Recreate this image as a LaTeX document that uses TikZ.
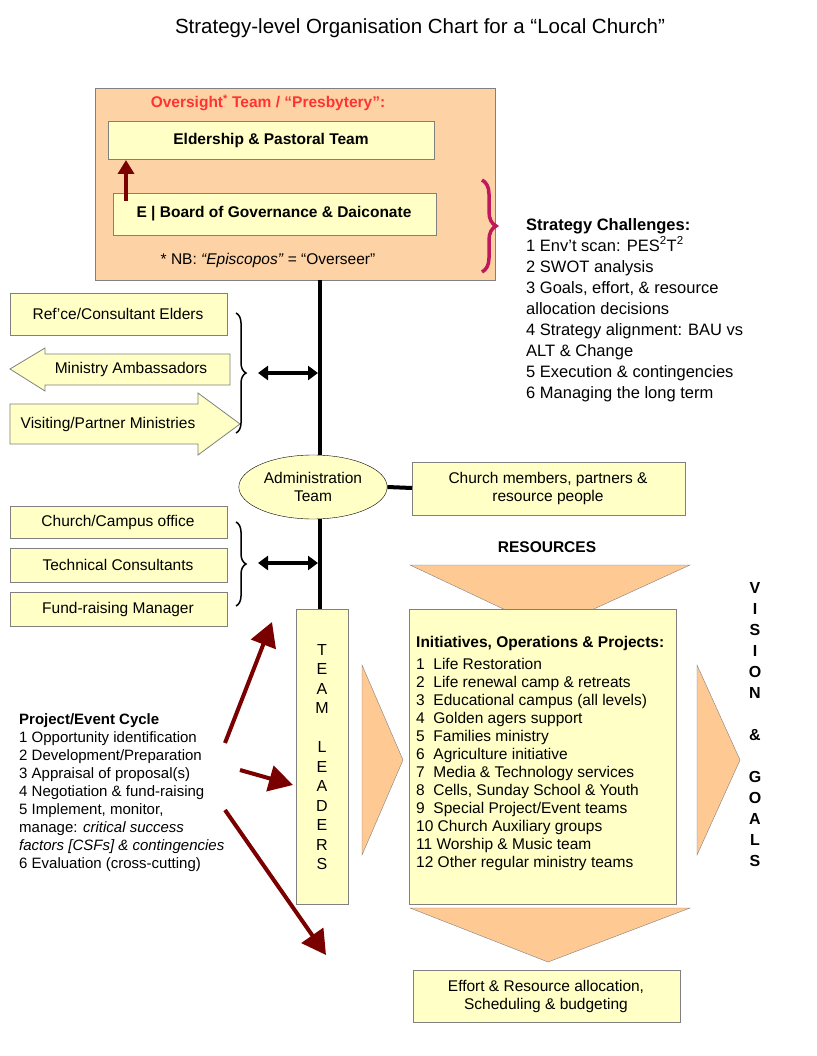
\documentclass[tikz,border=0pt]{standalone}
\usepackage{fontspec}
\setmainfont{Liberation Sans}
\usetikzlibrary{shapes.geometric,shapes.arrows,decorations.pathreplacing,arrows.meta}
\definecolor{peach}{HTML}{FDD3A5}
\definecolor{pale}{HTML}{FFFFC6}
\definecolor{tri}{HTML}{FFC994}
\definecolor{darkred}{HTML}{7A0000}
\definecolor{brace}{HTML}{C0185A}
\begin{document}
\begin{tikzpicture}[x=1pt,y=-1pt,
  box/.style={draw=gray,fill=pale,line width=0.8pt,inner sep=0pt},
  txt/.style={font=\fontsize{15.5}{18}\selectfont},
  btxt/.style={font=\bfseries\fontsize{15.5}{18}\selectfont},
  lst/.style={align=left,anchor=north west,inner sep=0pt},
  redarr/.style={draw=darkred,line width=4pt,-{Triangle[length=24pt,width=26pt]}},
  dbl/.style={line width=3.5pt,{Triangle[length=10pt,width=14pt]}-{Triangle[length=10pt,width=14pt]}}]
\useasboundingbox (0,0) rectangle (816,1056);

% title
\node[font=\fontsize{20.5}{24}\selectfont] (title) at (420,28) {Strategy-level Organisation Chart for a “Local Church”};

% oversight team
\draw[fill=peach,draw=gray] (95,88) rectangle (495,280);
\node[text=red!80,btxt] (over) at (268,103) {Oversight\textsuperscript{*} Team / “Presbytery”:};
\draw[box] (108,121) rectangle (434,159);
\node[btxt] (elder) at (271,140) {Eldership \& Pastoral Team};
\draw[box] (113,193) rectangle (436,235);
\node[btxt] (board) at (274,214) {E | Board of Governance \& Daiconate};
\coordinate (eup) at (126,160);
\coordinate (edn) at (126,201);
\draw[darkred,line width=3.5pt,-{Triangle[length=14pt,width=16pt]}] (edn) -- (eup);
\node[txt] (nb) at (268,260) {* NB: \textit{“Episcopos”} = “Overseer”};

% strategy challenges
\draw[brace,line width=3.5pt,decorate,decoration={brace,amplitude=14pt}] (482,180) -- (482,272);
\node[lst,font=\fontsize{16.5}{21}\selectfont] (chal) at (526,218) {\textbf{Strategy Challenges:}\\
1 Env't scan: PES\textsuperscript{2}T\textsuperscript{2}\\
2 SWOT analysis\\
3 Goals, effort, \& resource\\
allocation decisions\\
4 Strategy alignment: BAU vs\\
ALT \& Change\\
5 Execution \& contingencies\\
6 Managing the long term};

% spine
\node[draw=black,fill=pale,ellipse,minimum width=116pt,minimum height=64pt,align=center,txt] (admin) at (313,487) {Administration\\Team};
\coordinate (top) at (320,280);
\coordinate (bot) at (320,609);
\draw[line width=4pt] (top) -- (top |- admin.north);
\draw[line width=4pt] (bot |- admin.south) -- (bot);

% upper left group
\draw[box] (10,293) rectangle (227,335);
\node[txt] (ref) at (118,314) {Ref'ce/Consultant Elders};
\draw[draw=gray,fill=pale,line width=0.8pt] (10,369) -- (45,348) -- (45,354) -- (230,354) -- (230,385) -- (45,385) -- (45,391) -- cycle;
\node[txt] (amb) at (131,369) {Ministry Ambassadors};
\draw[draw=gray,fill=pale,line width=0.8pt] (10,404) -- (198,404) -- (198,393) -- (240,424) -- (198,455) -- (198,444) -- (10,444) -- cycle;
\node[txt] (vis) at (108,424) {Visiting/Partner Ministries};
\draw[line width=1.5pt,decorate,decoration={brace,amplitude=10pt}] (236,313) -- (236,433);
\coordinate (ua) at (258,373);
\coordinate (ub) at (318,373);
\draw[dbl] (ua) -- (ub);

% church members
\draw[box] (412,462) rectangle (685,515);
\node[txt,align=center] (memb) at (548,488) {Church members, partners \&\\resource people};
\draw[line width=4pt] (admin.east) -- (memb.west -| 412,0);

% lower left group
\draw[box] (10,506) rectangle (227,538);
\node[txt] (office) at (118,522) {Church/Campus office};
\draw[box] (10,548) rectangle (227,582);
\node[txt] (tech) at (118,565) {Technical Consultants};
\draw[box] (10,592) rectangle (227,626);
\node[txt] (fund) at (118,609) {Fund-raising Manager};
\draw[line width=1.5pt,decorate,decoration={brace,amplitude=10pt}] (236,522) -- (236,606);
\coordinate (la) at (258,563);
\coordinate (lb) at (318,563);
\draw[dbl] (la) -- (lb);

% resources
\node[btxt] (res) at (547,547) {RESOURCES};
\draw[draw=gray,fill=tri] (410,565) -- (690,565) -- (548,630) -- cycle;

% team leaders
\draw[box] (296,609) rectangle (348,904);
\node[font=\fontsize{16}{19.5}\selectfont,align=center] (team) at (322,757) {T\\E\\A\\M\\[19.5pt]L\\E\\A\\D\\E\\R\\S};
\draw[draw=gray,fill=tri] (362,665) -- (403,760) -- (362,855) -- cycle;

% initiatives
\draw[box] (409,609) rectangle (676,904);
\node[lst,font=\fontsize{15.5}{18}\selectfont] (init) at (416,636) {\textbf{Initiatives, Operations \& Projects:}\\[4pt]
1\ \ Life Restoration\\
2\ \ Life renewal camp \& retreats\\
3\ \ Educational campus (all levels)\\
4\ \ Golden agers support\\
5\ \ Families ministry\\
6\ \ Agriculture initiative\\
7\ \ Media \& Technology services\\
8\ \ Cells, Sunday School \& Youth\\
9\ \ Special Project/Event teams\\
10 Church Auxiliary groups\\
11 Worship \& Music team\\
12 Other regular ministry teams};
\draw[draw=gray,fill=tri] (697,665) -- (740,760) -- (697,855) -- cycle;
\node[font=\bfseries\fontsize{16}{21}\selectfont,align=center] (vision) at (755,725) {V\\I\\S\\I\\O\\N\\[21pt]\&\\[21pt]G\\O\\A\\L\\S};

% effort
\draw[draw=gray,fill=tri] (410,908) -- (690,908) -- (548,962) -- cycle;
\draw[box] (413,970) rectangle (680,1022);
\node[txt,align=center] (effort) at (546,996) {Effort \& Resource allocation,\\Scheduling \& budgeting};

% project cycle
\node[lst,font=\fontsize{15}{18}\selectfont] (cycle) at (19,713) {\textbf{Project/Event Cycle}\\
1 Opportunity identification\\
2 Development/Preparation\\
3 Appraisal of proposal(s)\\
4 Negotiation \& fund-raising\\
5 Implement, monitor,\\
manage: \textit{critical success}\\
\textit{factors [CSFs] \& contingencies}\\
6 Evaluation (cross-cutting)};
\coordinate (c1) at (225,743);
\coordinate (c2) at (240,770);
\coordinate (c3) at (225,810);
\coordinate (t1) at (272,622);
\coordinate (t2) at (293,785);
\coordinate (t3) at (326,955);
\draw[redarr] (c1) -- (t1);
\draw[redarr] (c2) -- (t2);
\draw[redarr] (c3) -- (t3);
\end{tikzpicture}
\end{document}
